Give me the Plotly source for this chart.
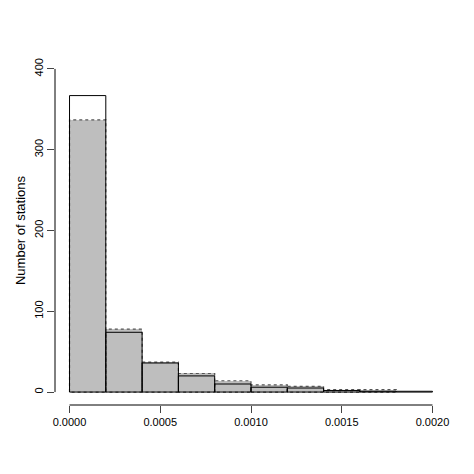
import plotly.graph_objects as go

bin_edges = [0.0000, 0.0002, 0.0004, 0.0006, 0.0008, 0.0010, 0.0012, 0.0014, 0.0016, 0.0018, 0.0020]
counts_all = [367, 74, 36, 20, 10, 6, 5, 2, 1, 1]
counts_sub = [337, 78, 37, 23, 14, 9, 7, 3, 3, 0]

y_ticks = [0, 100, 200, 300, 400]
x_ticks = [0.0000, 0.0005, 0.0010, 0.0015, 0.0020]

mids = [(a + b) / 2 for a, b in zip(bin_edges[:-1], bin_edges[1:])]
width = bin_edges[1] - bin_edges[0]


def outline(counts):
    xs, ys = [], []
    for i, c in enumerate(counts):
        if c <= 0:
            continue
        a, b = bin_edges[i], bin_edges[i + 1]
        xs += [a, a, b, b, a, None]
        ys += [0, c, c, 0, 0, None]
    return xs, ys


fig = go.Figure()
fig.add_bar(x=mids, y=counts_all, width=width, marker=dict(color="white", line=dict(width=0)))
fig.add_bar(x=mids, y=counts_sub, width=width, marker=dict(color="#bebebe", line=dict(width=0)))
sx, sy = outline(counts_sub)
fig.add_scatter(x=sx, y=sy, mode="lines", line=dict(color="#555555", width=1.2, dash="dot"))
ax, ay = outline(counts_all)
fig.add_scatter(x=ax, y=ay, mode="lines", line=dict(color="black", width=1))

# R-style axis lines spanning only the tick range
fig.add_shape(type="line", xref="x", yref="paper", x0=0, x1=0.002, y0=0, y1=0,
              line=dict(color="black", width=1))
fig.add_shape(type="line", xref="paper", yref="y", x0=0, x1=0, y0=0, y1=400,
              line=dict(color="black", width=1))

fig.update_layout(
    width=474, height=474, barmode="overlay", bargap=0, showlegend=False,
    plot_bgcolor="white", paper_bgcolor="white",
    margin=dict(l=47, r=35, t=48, b=77),
    font=dict(family="Liberation Sans, Arial", size=11, color="black"),
    xaxis=dict(range=[-0.00008, 0.00208], tickvals=x_ticks,
               ticktext=[f"{v:.4f}" for v in x_ticks], ticks="outside", ticklen=7,
               showgrid=False, zeroline=False, showline=False),
    yaxis=dict(range=[-16, 416], tickvals=y_ticks, ticks="outside", ticklen=7,
               tickangle=-90, showgrid=False, zeroline=False, showline=False,
               title=dict(text="Number of stations", standoff=4)),
)
fig.write_html("out.html")
